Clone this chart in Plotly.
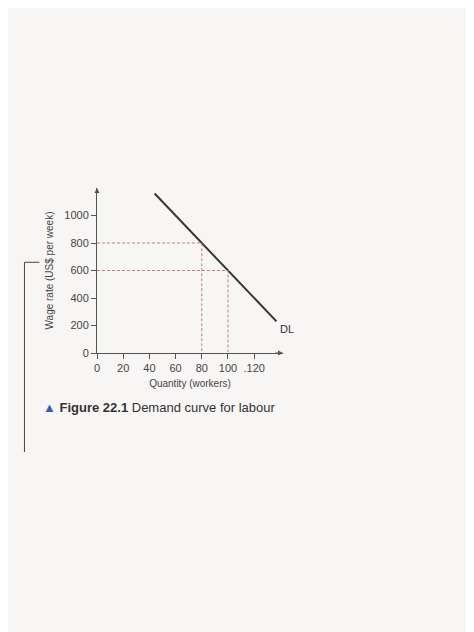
import plotly.graph_objects as go

dl_x = [44, 137]
dl_y = [1160, 230]
guide_q = [80, 100]
guide_w = [800, 600]
x_ticks = [0, 20, 40, 60, 80, 100, 120]
x_labels = ["0", "20", "40", "60", "80", "100", ".120"]
y_ticks = [0, 200, 400, 600, 800, 1000]

fig = go.Figure()
fig.add_trace(go.Scatter(x=dl_x, y=dl_y, mode="lines",
                         line=dict(color="#3a3535", width=2), showlegend=False))
for q, w in zip(guide_q, guide_w):
    fig.add_trace(go.Scatter(x=[0, q, q], y=[w, w, 0], mode="lines",
                             line=dict(color="#c77a86", width=1, dash="3px,2px"),
                             showlegend=False))
fig.add_annotation(x=dl_x[1], y=dl_y[1], text="DL", showarrow=False,
                   xanchor="left", yanchor="top", xshift=2,
                   font=dict(size=11, color="#333"))
fig.add_annotation(x=142, y=0, ax=135, ay=0, xref="x", yref="y", axref="x", ayref="y",
                   showarrow=True, arrowhead=2, arrowsize=1, arrowwidth=1, arrowcolor="#555", text="")
fig.add_annotation(x=0, y=1200, ax=0, ay=1150, xref="x", yref="y", axref="x", ayref="y",
                   showarrow=True, arrowhead=2, arrowsize=1, arrowwidth=1, arrowcolor="#555", text="")
fig.add_annotation(x=-0.3, y=-0.39, xref="paper", yref="paper", showarrow=False,
                   xanchor="left", text="<span style='color:#3b5bb0'>▲</span> <b>Figure 22.1</b> Demand curve for labour",
                   font=dict(size=13, color="#333", family="Liberation Sans Narrow, Liberation Sans"))
fig.add_shape(type="line", xref="paper", yref="paper", x0=-0.39, x1=-0.39, y0=-0.6, y1=0.55,
              line=dict(color="#444", width=1))
fig.add_shape(type="line", xref="paper", yref="paper", x0=-0.39, x1=-0.31, y0=0.55, y1=0.55,
              line=dict(color="#444", width=1))

axis_common = dict(showgrid=False, zeroline=False, ticks="outside", ticklen=5,
                   tickcolor="#555", linecolor="#555", showline=True,
                   tickfont=dict(size=11, color="#444", family="Liberation Sans"))
fig.update_xaxes(range=[0, 142], tickvals=x_ticks, ticktext=x_labels,
                 title=dict(text="Quantity (workers)", font=dict(size=10, color="#444"), standoff=6),
                 **axis_common)
fig.update_yaxes(range=[0, 1200], tickvals=y_ticks,
                 title=dict(text="Wage rate (US$ per week)", font=dict(size=10, color="#444"), standoff=8),
                 **axis_common)
fig.update_layout(width=474, height=632, margin=dict(l=89, r=199, t=180, b=287),
                  paper_bgcolor="#f7f6f4", plot_bgcolor="rgba(0,0,0,0)",
                  font=dict(family="Liberation Sans"))
fig.write_html("out.html")
